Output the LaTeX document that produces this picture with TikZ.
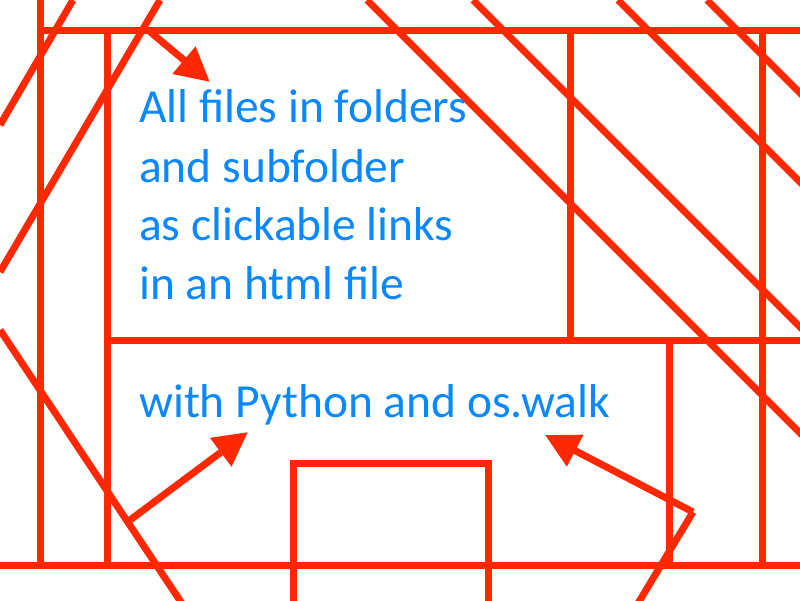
\documentclass[tikz,border=0pt]{standalone}
\usepackage{fontspec}
\setmainfont{Carlito}
\usetikzlibrary{arrows.meta}
\definecolor{rd}{RGB}{255,40,0}
\definecolor{bl}{RGB}{10,136,255}
\tikzset{ln/.style={draw=rd,line width=7pt},
 arr/.style={ln,-{Triangle[length=34pt,width=34pt]}},
 txt/.style={text=bl,font=\fontsize{47.5}{58}\selectfont,anchor=base west,inner sep=0pt}}
\begin{document}
\begin{tikzpicture}[x=1pt,y=-1pt]
\fill[white] (0,0) rectangle (800,600);
\useasboundingbox (0,0) rectangle (800,600);
\clip (0,0) rectangle (800,600);
\path[ln] (40,30) -- (800,30);
\path[ln] (40,0) -- (40,565);
\path[ln] (107,30) -- (107,565);
\path[ln] (570,30) -- (570,338);
\path[ln] (762,30) -- (762,565);
\path[ln] (107,340) -- (800,340);
\path[ln] (669,340) -- (669,565);
\path[ln] (0,565) -- (800,565);
\path[ln] (293,610) -- (293,463) -- (488,463) -- (488,610);
\path[ln] (73,0) -- (0,125);
\path[ln] (160,0) -- (0,272);
\path[ln] (0,330) -- (183,605);
\path[ln] (367,0) -- (810,443);
\path[ln] (473,0) -- (810,337);
\path[ln] (618,0) -- (810,192);
\path[ln] (707,0) -- (810,103);
\path[ln] (637,605) -- (693,512);
\path[arr] (693,512) -- (545,435);
\path[arr] (130,520) -- (248,432);
\path[arr] (148,30) -- (210,82);
\node[txt] (t1) at (139,122) {All files in folders};
\node[txt] (t2) at (139,182) {and subfolder};
\node[txt] (t3) at (139,240) {as clickable links};
\node[txt] (t4) at (139,299) {in an html file};
\node[txt] (t5) at (139,417) {with Python and os.walk};
\end{tikzpicture}
\end{document}
